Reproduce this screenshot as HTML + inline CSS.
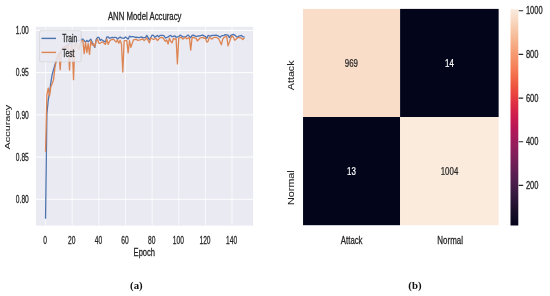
<!DOCTYPE html>
<html lang="en"><head><meta charset="utf-8"><title>ANN Model Accuracy and Confusion Matrix</title>
<style>html,body{margin:0;padding:0;background:#fff;overflow:hidden}svg{display:block}</style></head>
<body>
<svg width="550" height="296" viewBox="0 0 550 296" role="img" aria-label="ANN model accuracy plot and confusion matrix">
<rect width="550" height="296" fill="#ffffff"/>
<rect x="35.9" y="26.8" width="217.20" height="198.80" fill="#eaeaf2"/>
<clipPath id="c"><rect x="35.9" y="26.8" width="217.20" height="198.80"/></clipPath>
<path d="M45.55 26.8V225.6M72.19 26.8V225.6M98.83 26.8V225.6M125.47 26.8V225.6M152.11 26.8V225.6M178.75 26.8V225.6M205.39 26.8V225.6M232.03 26.8V225.6" stroke="#ffffff" stroke-width="0.7" fill="none"/>
<path d="M35.9 30.40H253.1M35.9 72.63H253.1M35.9 114.85H253.1M35.9 157.08H253.1M35.9 199.30H253.1" stroke="#ffffff" stroke-width="0.95" fill="none"/>
<polyline points="45.55,218.13 46.88,114.01 48.21,100.49 49.55,92.47 50.88,82.34 52.21,74.48 53.54,69.67 54.87,65.02 56.21,60.80 57.54,57.42 58.87,54.47 60.20,52.36 61.53,50.25 62.87,48.56 64.20,47.29 65.53,46.02 66.86,45.18 68.19,44.33 69.53,43.49 70.86,43.07 72.19,42.39 73.52,41.97 74.85,41.38 76.19,40.96 77.52,40.53 78.85,40.37 80.18,40.11 81.51,39.20 82.85,39.20 84.18,40.69 85.51,42.18 86.84,40.32 88.17,41.81 89.51,40.51 90.84,39.20 92.17,42.18 93.50,44.78 94.83,47.38 96.17,39.52 97.50,37.35 98.83,37.29 100.16,40.48 101.49,39.36 102.83,40.64 104.16,41.30 105.49,41.97 106.82,36.92 108.15,36.97 109.49,38.25 110.82,37.77 112.15,37.29 113.48,37.67 114.81,37.48 116.15,37.29 117.48,39.15 118.81,38.04 120.14,36.92 121.47,38.04 122.81,38.22 124.14,38.41 125.47,36.92 126.80,38.04 128.13,39.15 129.47,36.18 130.80,36.92 132.13,36.55 133.46,36.55 134.79,37.29 136.13,37.11 137.46,37.39 138.79,37.67 140.12,37.29 141.45,36.92 142.79,37.67 144.12,37.67 145.45,37.67 146.78,35.43 148.11,37.67 149.45,39.90 150.78,37.48 152.11,35.06 153.44,35.43 154.77,37.29 156.11,36.36 157.44,35.43 158.77,36.92 160.10,35.43 161.43,35.43 162.77,35.43 164.10,35.81 165.43,38.04 166.76,37.48 168.09,36.92 169.43,35.81 170.76,35.43 172.09,36.74 173.42,36.27 174.75,35.81 176.09,37.29 177.42,36.92 178.75,36.55 180.08,35.06 181.41,35.81 182.75,36.92 184.08,36.92 185.41,36.92 186.74,35.99 188.07,35.06 189.41,36.36 190.74,37.67 192.07,35.43 193.40,35.06 194.73,35.81 196.07,36.55 197.40,36.18 198.73,35.99 200.06,35.81 201.39,35.43 202.73,35.06 204.06,35.81 205.39,36.36 206.72,38.41 208.05,35.43 209.39,35.81 210.72,36.18 212.05,35.43 213.38,35.43 214.71,35.43 216.05,35.06 217.38,35.62 218.71,36.18 220.04,37.29 221.37,35.81 222.71,35.62 224.04,35.43 225.37,34.69 226.70,34.88 228.03,35.06 229.37,37.67 230.70,35.43 232.03,34.88 233.36,34.32 234.69,35.06 236.03,36.18 237.36,37.29 238.69,36.18 240.02,35.81 241.35,35.43 242.69,36.55 244.02,36.92" fill="none" stroke="#4c72b0" stroke-width="1.3" stroke-linejoin="round" stroke-linecap="square" clip-path="url(#c)"/>
<polyline points="45.55,151.16 46.88,95.00 48.21,88.16 49.55,96.02 50.88,86.73 52.21,83.60 53.54,79.80 54.87,68.40 56.21,60.80 57.54,56.58 58.87,53.20 60.20,69.67 61.53,48.98 62.87,47.29 64.20,48.98 65.53,45.60 66.86,48.13 68.19,44.76 69.53,70.09 70.86,45.60 72.19,43.91 73.52,79.72 74.85,44.76 76.19,43.07 77.52,47.29 78.85,49.82 80.18,43.07 81.51,40.69 82.85,40.69 84.18,53.70 85.51,42.18 86.84,52.59 88.17,43.67 89.51,54.45 90.84,40.69 92.17,45.15 93.50,43.67 94.83,46.64 96.17,41.01 97.50,39.15 98.83,43.24 100.16,43.29 101.49,42.13 102.83,42.18 104.16,43.29 105.49,44.41 106.82,39.20 108.15,44.36 109.49,41.43 110.82,39.90 112.15,39.52 113.48,39.15 114.81,40.64 116.15,42.13 117.48,39.90 118.81,43.24 120.14,40.27 121.47,43.91 122.81,72.03 124.14,40.96 125.47,40.64 126.80,40.64 128.13,52.95 129.47,40.64 130.80,47.33 132.13,43.61 133.46,39.90 134.79,39.52 136.13,39.15 137.46,40.27 138.79,40.08 140.12,39.90 141.45,39.34 142.79,38.78 144.12,40.64 145.45,39.34 146.78,38.04 148.11,40.45 149.45,42.87 150.78,38.04 152.11,38.78 153.44,39.52 154.77,38.97 156.11,38.41 157.44,40.64 158.77,39.15 160.10,37.67 161.43,37.29 162.77,37.67 164.10,39.52 165.43,41.38 166.76,39.90 168.09,43.99 169.43,38.04 170.76,41.38 172.09,42.87 173.42,38.41 174.75,39.15 176.09,38.78 177.42,63.93 178.75,38.04 180.08,37.67 181.41,37.29 182.75,39.15 184.08,38.22 185.41,37.29 186.74,38.78 188.07,38.22 189.41,37.67 190.74,50.08 192.07,37.67 193.40,37.29 194.73,37.85 196.07,38.41 197.40,41.01 198.73,39.52 200.06,38.04 201.39,37.67 202.73,37.29 204.06,38.41 205.39,37.67 206.72,42.13 208.05,41.38 209.39,37.29 210.72,38.22 212.05,39.15 213.38,37.67 214.71,37.48 216.05,37.29 217.38,38.04 218.71,38.78 220.04,41.75 221.37,44.73 222.71,39.15 224.04,37.29 225.37,36.74 226.70,36.18 228.03,45.84 229.37,42.13 230.70,38.41 232.03,35.81 233.36,37.29 234.69,40.27 236.03,39.15 237.36,38.04 238.69,37.29 240.02,37.67 241.35,38.04 242.69,39.52 244.02,38.41" fill="none" stroke="#dd8452" stroke-width="1.3" stroke-linejoin="round" stroke-linecap="square" clip-path="url(#c)"/>
<rect x="39.6" y="30.6" width="41.6" height="31.2" rx="1.6" fill="#eaeaf2" fill-opacity="0.85" stroke="#cccccc" stroke-opacity="0.8" stroke-width="0.7"/>
<path d="M41.5 38.4H56.0" stroke="#4c72b0" stroke-width="1.4"/>
<path d="M41.5 52.4H56.0" stroke="#dd8452" stroke-width="1.4"/>
<text transform="translate(62.20,41.90) scale(0.585,1)" font-size="11.4" text-anchor="start" fill="#262626" stroke="#262626" stroke-width="0.3" font-family='"Liberation Sans", Arial, sans-serif' font-weight="normal">Train</text>
<text transform="translate(62.20,56.90) scale(0.585,1)" font-size="11.4" text-anchor="start" fill="#262626" stroke="#262626" stroke-width="0.3" font-family='"Liberation Sans", Arial, sans-serif' font-weight="normal">Test</text>
<text transform="translate(45.15,243.50) scale(0.585,1)" font-size="11.4" text-anchor="middle" fill="#262626" stroke="#262626" stroke-width="0.3" font-family='"Liberation Sans", Arial, sans-serif' font-weight="normal">0</text>
<text transform="translate(71.79,243.50) scale(0.585,1)" font-size="11.4" text-anchor="middle" fill="#262626" stroke="#262626" stroke-width="0.3" font-family='"Liberation Sans", Arial, sans-serif' font-weight="normal">20</text>
<text transform="translate(98.43,243.50) scale(0.585,1)" font-size="11.4" text-anchor="middle" fill="#262626" stroke="#262626" stroke-width="0.3" font-family='"Liberation Sans", Arial, sans-serif' font-weight="normal">40</text>
<text transform="translate(125.07,243.50) scale(0.585,1)" font-size="11.4" text-anchor="middle" fill="#262626" stroke="#262626" stroke-width="0.3" font-family='"Liberation Sans", Arial, sans-serif' font-weight="normal">60</text>
<text transform="translate(151.71,243.50) scale(0.585,1)" font-size="11.4" text-anchor="middle" fill="#262626" stroke="#262626" stroke-width="0.3" font-family='"Liberation Sans", Arial, sans-serif' font-weight="normal">80</text>
<text transform="translate(178.35,243.50) scale(0.585,1)" font-size="11.4" text-anchor="middle" fill="#262626" stroke="#262626" stroke-width="0.3" font-family='"Liberation Sans", Arial, sans-serif' font-weight="normal">100</text>
<text transform="translate(204.99,243.50) scale(0.585,1)" font-size="11.4" text-anchor="middle" fill="#262626" stroke="#262626" stroke-width="0.3" font-family='"Liberation Sans", Arial, sans-serif' font-weight="normal">120</text>
<text transform="translate(231.63,243.50) scale(0.585,1)" font-size="11.4" text-anchor="middle" fill="#262626" stroke="#262626" stroke-width="0.3" font-family='"Liberation Sans", Arial, sans-serif' font-weight="normal">140</text>
<text transform="translate(28.80,34.10) scale(0.585,1)" font-size="11.4" text-anchor="end" fill="#262626" stroke="#262626" stroke-width="0.3" font-family='"Liberation Sans", Arial, sans-serif' font-weight="normal">1.00</text>
<text transform="translate(28.80,76.33) scale(0.585,1)" font-size="11.4" text-anchor="end" fill="#262626" stroke="#262626" stroke-width="0.3" font-family='"Liberation Sans", Arial, sans-serif' font-weight="normal">0.95</text>
<text transform="translate(28.80,118.55) scale(0.585,1)" font-size="11.4" text-anchor="end" fill="#262626" stroke="#262626" stroke-width="0.3" font-family='"Liberation Sans", Arial, sans-serif' font-weight="normal">0.90</text>
<text transform="translate(28.80,160.78) scale(0.585,1)" font-size="11.4" text-anchor="end" fill="#262626" stroke="#262626" stroke-width="0.3" font-family='"Liberation Sans", Arial, sans-serif' font-weight="normal">0.85</text>
<text transform="translate(28.80,203.00) scale(0.585,1)" font-size="11.4" text-anchor="end" fill="#262626" stroke="#262626" stroke-width="0.3" font-family='"Liberation Sans", Arial, sans-serif' font-weight="normal">0.80</text>
<text transform="translate(144.70,19.70) scale(0.757,1)" font-size="10.3" text-anchor="middle" fill="#262626" stroke="#262626" stroke-width="0.3" font-family='"Liberation Sans", Arial, sans-serif' font-weight="normal">ANN Model Accuracy</text>
<text transform="translate(144.30,256.10) scale(0.735,1)" font-size="10.3" text-anchor="middle" fill="#262626" stroke="#262626" stroke-width="0.3" font-family='"Liberation Sans", Arial, sans-serif' font-weight="normal">Epoch</text>
<text transform="translate(10.30,127.10) scale(0.735,1) rotate(-90)" font-size="10.85" text-anchor="middle" fill="#262626" stroke="#262626" stroke-width="0.12" font-family='"Liberation Sans", Arial, sans-serif' font-weight="normal">Accuracy</text>
<rect x="303.05" y="8.9" width="97.05" height="108.10" fill="#f9ddc9"/>
<rect x="400.10" y="8.9" width="98.55" height="108.10" fill="#03051a"/>
<rect x="303.05" y="117.00" width="97.05" height="108.20" fill="#03051a"/>
<rect x="400.10" y="117.00" width="98.55" height="108.20" fill="#faebdd"/>
<text transform="translate(351.38,66.75) scale(0.7,1)" font-size="11.3" text-anchor="middle" fill="#262626" stroke="#262626" stroke-width="0.25" font-family='"Liberation Sans", Arial, sans-serif' font-weight="normal">969</text>
<text transform="translate(449.48,66.75) scale(0.7,1)" font-size="11.3" text-anchor="middle" fill="#ffffff" stroke="#ffffff" stroke-width="0.25" font-family='"Liberation Sans", Arial, sans-serif' font-weight="normal">14</text>
<text transform="translate(351.38,174.90) scale(0.7,1)" font-size="11.3" text-anchor="middle" fill="#ffffff" stroke="#ffffff" stroke-width="0.25" font-family='"Liberation Sans", Arial, sans-serif' font-weight="normal">13</text>
<text transform="translate(449.48,174.90) scale(0.7,1)" font-size="11.3" text-anchor="middle" fill="#262626" stroke="#262626" stroke-width="0.25" font-family='"Liberation Sans", Arial, sans-serif' font-weight="normal">1004</text>
<text transform="translate(351.68,244.00) scale(0.69,1)" font-size="11.3" text-anchor="middle" fill="#262626" stroke="#262626" stroke-width="0.3" font-family='"Liberation Sans", Arial, sans-serif' font-weight="normal">Attack</text>
<text transform="translate(450.18,244.00) scale(0.705,1)" font-size="11.3" text-anchor="middle" fill="#262626" stroke="#262626" stroke-width="0.3" font-family='"Liberation Sans", Arial, sans-serif' font-weight="normal">Normal</text>
<text transform="translate(293.50,75.30) scale(0.83,1) rotate(-90)" font-size="10.7" text-anchor="middle" fill="#262626" stroke="#262626" stroke-width="0.12" font-family='"Liberation Sans", Arial, sans-serif' font-weight="normal">Attack</text>
<text transform="translate(293.50,187.60) scale(0.83,1) rotate(-90)" font-size="10.8" text-anchor="middle" fill="#262626" stroke="#262626" stroke-width="0.12" font-family='"Liberation Sans", Arial, sans-serif' font-weight="normal">Normal</text>
<linearGradient id="rk" x1="0" y1="1" x2="0" y2="0"><stop offset="0.00" stop-color="#03051a"/><stop offset="0.05" stop-color="#130d25"/><stop offset="0.10" stop-color="#251433"/><stop offset="0.15" stop-color="#381a40"/><stop offset="0.20" stop-color="#4c1d4b"/><stop offset="0.25" stop-color="#611f53"/><stop offset="0.30" stop-color="#751f58"/><stop offset="0.35" stop-color="#8b1d5b"/><stop offset="0.40" stop-color="#a11a5b"/><stop offset="0.45" stop-color="#b71657"/><stop offset="0.50" stop-color="#cb1b4f"/><stop offset="0.55" stop-color="#db2946"/><stop offset="0.60" stop-color="#e83f3f"/><stop offset="0.65" stop-color="#ef5840"/><stop offset="0.70" stop-color="#f3714d"/><stop offset="0.75" stop-color="#f58860"/><stop offset="0.80" stop-color="#f69c73"/><stop offset="0.85" stop-color="#f6b18b"/><stop offset="0.90" stop-color="#f7c6a6"/><stop offset="0.95" stop-color="#f8d9c3"/><stop offset="1.00" stop-color="#faebdd"/></linearGradient>
<rect x="510.5" y="9.2" width="7.80" height="216.30" fill="url(#rk)"/>
<text transform="translate(525.90,189.05) scale(0.73,1)" font-size="10.3" text-anchor="start" fill="#262626" stroke="#262626" stroke-width="0.3" font-family='"Liberation Sans", Arial, sans-serif' font-weight="normal">200</text>
<text transform="translate(525.90,145.37) scale(0.73,1)" font-size="10.3" text-anchor="start" fill="#262626" stroke="#262626" stroke-width="0.3" font-family='"Liberation Sans", Arial, sans-serif' font-weight="normal">400</text>
<text transform="translate(525.90,101.69) scale(0.73,1)" font-size="10.3" text-anchor="start" fill="#262626" stroke="#262626" stroke-width="0.3" font-family='"Liberation Sans", Arial, sans-serif' font-weight="normal">600</text>
<text transform="translate(525.90,58.01) scale(0.73,1)" font-size="10.3" text-anchor="start" fill="#262626" stroke="#262626" stroke-width="0.3" font-family='"Liberation Sans", Arial, sans-serif' font-weight="normal">800</text>
<text transform="translate(525.90,14.33) scale(0.73,1)" font-size="10.3" text-anchor="start" fill="#262626" stroke="#262626" stroke-width="0.3" font-family='"Liberation Sans", Arial, sans-serif' font-weight="normal">1000</text>
<path d="M518.7 185.45H523.2M518.7 141.77H523.2M518.7 98.09H523.2M518.7 54.41H523.2M518.7 10.73H523.2" stroke="#262626" stroke-width="1.2" fill="none"/>
<text transform="translate(136.40,288.70) scale(1.0,1)" font-size="10.8" text-anchor="middle" fill="#111111" font-family='"Liberation Serif", "Times New Roman", serif' font-weight="bold">(a)</text>
<text transform="translate(414.90,288.50) scale(1.0,1)" font-size="10.8" text-anchor="middle" fill="#111111" font-family='"Liberation Serif", "Times New Roman", serif' font-weight="bold">(b)</text>
</svg>
</body></html>
